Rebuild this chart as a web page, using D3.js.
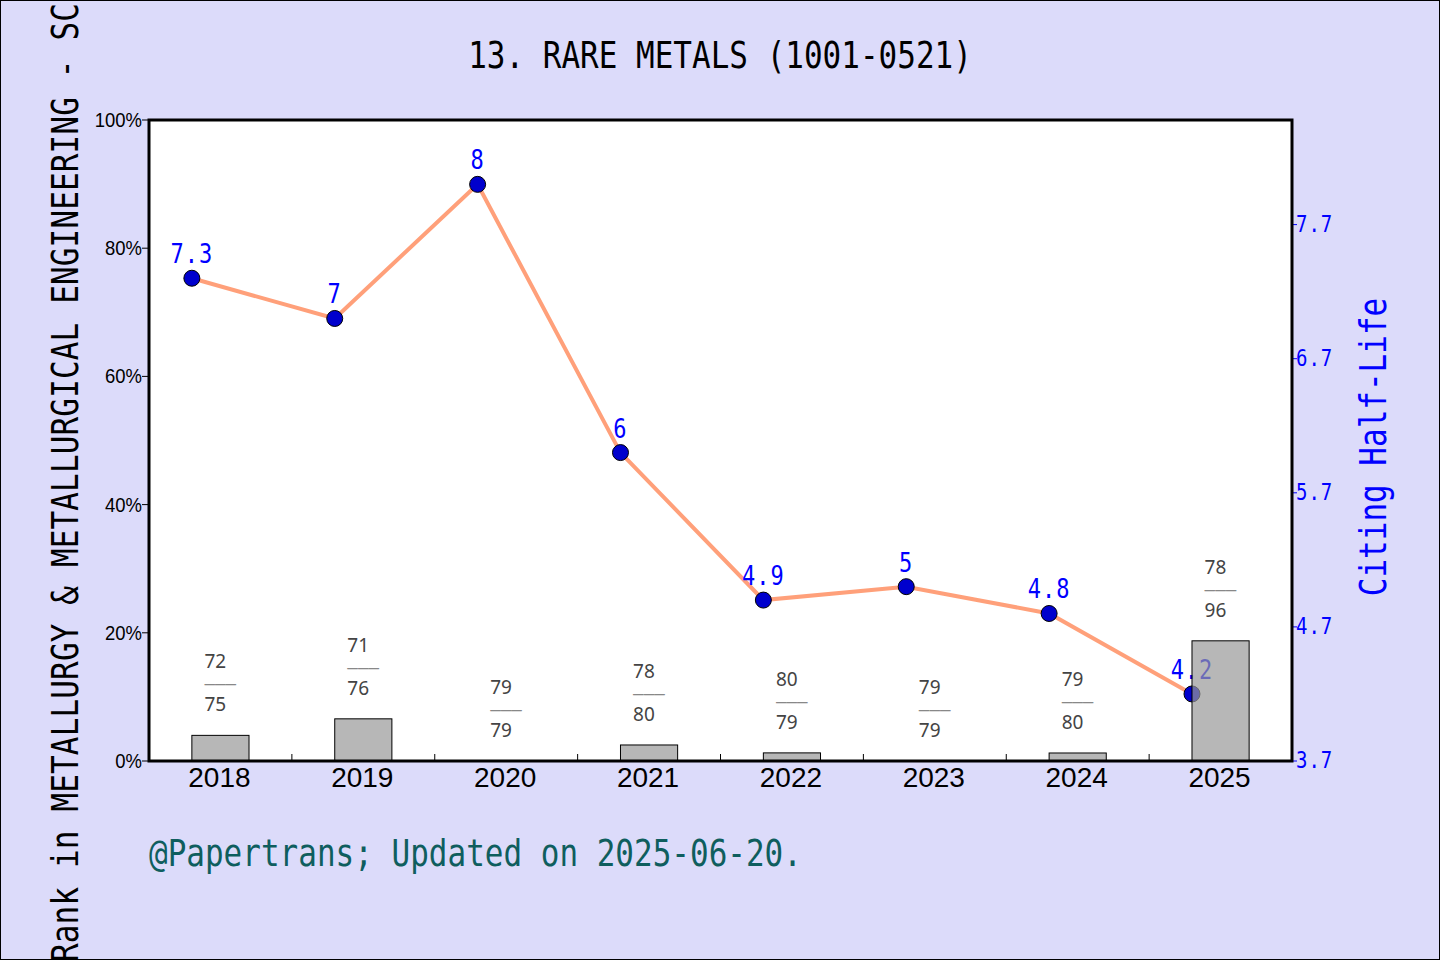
<!DOCTYPE html>
<html>
<head>
<meta charset="utf-8" />
<style>
body {
	margin: 0;
	background: #dcdbfa;
}
svg {
	display: block;
}
.mono {
	font-family: "DejaVu Sans Mono", monospace;
}
.tick-left {
	font-family: "Liberation Sans", Arial;
	font-size: 21px;
	text-anchor: end;
}
.year-label {
	font-family: "Liberation Sans", Arial;
	font-size: 28px;
	text-anchor: middle;
}
.frac {
	font-family: "Noto Sans", "Open Sans", Arial;
	font-size: 19px;
	fill: #444;
}
</style>
</head>
<body>
<script src="https://cdn.jsdelivr.net/npm/d3@7"></script>
<script>
var years = ["2018", "2019", "2020", "2021", "2022", "2023", "2024", "2025"];
var halfLife = [7.3, 7, 8, 6, 4.9, 5, 4.8, 4.2];
var rank = [72, 71, 79, 78, 80, 79, 79, 78];
var total = [75, 76, 79, 80, 79, 79, 80, 96];
var leftTicks = [0, 0.2, 0.4, 0.6, 0.8, 1.0];
var rightTicks = [3.7, 4.7, 5.7, 6.7, 7.7];

var width = 1440,
    height = 960,
    plotLeft = 149, plotRight = 1292,
    plotTop = 120, plotBottom = 761,
    stretch = 1.22;

var svg = d3.select("body").append("svg")
	.attr("width", width)
	.attr("height", height);

svg.append("rect")
	.attr("x", 0.5).attr("y", 0.5)
	.attr("width", width - 1).attr("height", height - 1)
	.attr("fill", "#dcdbfa")
	.attr("stroke", "#000");

svg.append("rect")
	.attr("x", plotLeft).attr("y", plotTop)
	.attr("width", plotRight - plotLeft).attr("height", plotBottom - plotTop)
	.attr("fill", "#fff");

var x = d3.scaleBand().domain(years).range([plotLeft, plotRight]);
var barW = x.bandwidth() * 0.4;
var yLeft = d3.scaleLinear().domain([0, 1]).range([plotBottom, plotTop]);
var yRight = d3.scaleLinear().domain([3.7, 8.48]).range([plotBottom, plotTop]);

// tall, narrow monospace text like the original
function monoText(g, tx, ty, rot, str, size, color, anchor) {
	return g.append("text")
		.attr("class", "mono")
		.attr("transform", "translate(" + tx + "," + ty + ")" + (rot ? " rotate(" + rot + ")" : "") + " scale(1," + stretch + ")")
		.attr("font-size", size)
		.attr("fill", color)
		.attr("text-anchor", anchor)
		.text(str);
}

monoText(svg, 720, 68, 0, "13. RARE METALS (1001-0521)", 31, "#000", "middle");
monoText(svg, 149, 866, 0, "@Papertrans; Updated on 2025-06-20.", 31, "#0f5e5e", "start");
monoText(svg, 78, 962, -90, "Rank in METALLURGY & METALLURGICAL ENGINEERING - SCIE", 31, "#000", "start")
	.attr("letter-spacing", 0.15);
monoText(svg, 1386, 447, -90, "Citing Half-Life", 31, "#0000ff", "middle");

// line + points (right axis)
var px = function(d, i) { return x(years[i]) + x.bandwidth() / 2 - barW / 2; };

svg.append("path")
	.datum(halfLife)
	.attr("fill", "none")
	.attr("stroke", "#ffa07a")
	.attr("stroke-width", 4)
	.attr("d", d3.line().x(px).y(function(d) { return yRight(d); }));

svg.selectAll(".pt")
	.data(halfLife)
	.enter().append("circle")
	.attr("cx", px)
	.attr("cy", function(d) { return yRight(d); })
	.attr("r", 8)
	.attr("fill", "#0000cd")
	.attr("stroke", "#000")
	.attr("stroke-width", 1);

var valG = svg.append("g");
halfLife.forEach(function(d, i) {
	monoText(valG, px(d, i), yRight(d) - 15, 0, String(d), 22, "#0000ff", "middle")
		.attr("letter-spacing", 1);
});

// bars (left axis), drawn over the line
var share = rank.map(function(r, i) { return Math.abs(1 - r / total[i]); });

svg.selectAll(".bar")
	.data(share)
	.enter().append("rect")
	.attr("x", function(d, i) { return x(years[i]) + x.bandwidth() / 2 - barW / 2; })
	.attr("y", function(d) { return yLeft(d); })
	.attr("width", barW)
	.attr("height", function(d) { return plotBottom - yLeft(d); })
	.attr("fill", "#999")
	.attr("fill-opacity", 0.7)
	.attr("stroke", "#000")
	.attr("stroke-width", 1);

var fracG = svg.append("g").attr("class", "frac");
share.forEach(function(d, i) {
	var fx = x(years[i]) + x.bandwidth() / 2 - 16,
	    by = yLeft(d);
	fracG.append("text").attr("x", fx).attr("y", by - 67).text(rank[i]);
	fracG.append("text").attr("x", fx).attr("y", by - 46)
		.attr("font-family", "Liberation Sans, Arial")
		.attr("font-size", 19)
		.attr("fill", "#888")
		.text("\u2013\u2013\u2013");
	fracG.append("text").attr("x", fx).attr("y", by - 24).text(total[i]);
});

// x ticks at band boundaries, pointing inward
svg.selectAll(".xtick")
	.data(years.slice(1))
	.enter().append("line")
	.attr("x1", function(d) { return x(d); })
	.attr("x2", function(d) { return x(d); })
	.attr("y1", plotBottom)
	.attr("y2", plotBottom - 7)
	.attr("stroke", "#000");

svg.selectAll(".year-label")
	.data(years)
	.enter().append("text")
	.attr("class", "year-label")
	.attr("x", function(d) { return x(d) + x.bandwidth() / 2 - 1; })
	.attr("y", 787)
	.text(function(d) { return d; });

// left axis
var lg = svg.append("g");
leftTicks.forEach(function(t) {
	lg.append("line")
		.attr("x1", plotLeft - 7).attr("x2", plotLeft)
		.attr("y1", yLeft(t)).attr("y2", yLeft(t))
		.attr("stroke", "#000");
	lg.append("text")
		.attr("class", "tick-left")
		.attr("transform", "translate(" + (plotLeft - 7) + "," + (yLeft(t) + 7) + ") scale(0.88,1)")
		.text(d3.format(".0%")(t));
});

// right axis
var rg = svg.append("g");
rightTicks.forEach(function(t) {
	rg.append("line")
		.attr("x1", plotRight).attr("x2", plotRight + 5)
		.attr("y1", yRight(t)).attr("y2", yRight(t))
		.attr("stroke", "#0000ff");
	monoText(rg, plotRight + 4, yRight(t) + 7, 0, t.toFixed(1), 19, "#0000ff", "start")
		.attr("letter-spacing", 1);
});

// plot frame
svg.append("rect")
	.attr("x", plotLeft).attr("y", plotTop)
	.attr("width", plotRight - plotLeft).attr("height", plotBottom - plotTop)
	.attr("fill", "none")
	.attr("stroke", "#000")
	.attr("stroke-width", 3);
</script>
</body>
</html>
